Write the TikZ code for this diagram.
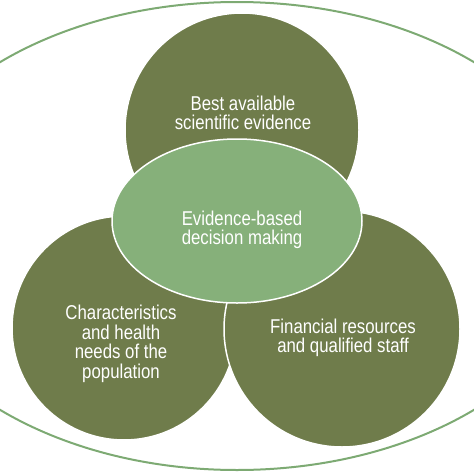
\documentclass[tikz,border=0pt]{standalone}
\usepackage{fontspec}
\setmainfont[FakeStretch=0.84]{Liberation Sans}
\usepackage{xcolor}
\usepackage{tikz}
\usetikzlibrary{shapes.geometric}
\definecolor{olivedark}{RGB}{111,124,75}
\definecolor{leafgreen}{RGB}{134,176,122}
\definecolor{ringgreen}{RGB}{125,170,115}

\begin{document}
\begin{tikzpicture}[x=1pt,y=-1pt,
  bubble/.style={circle,draw=white,line width=1.5pt,fill=olivedark,inner sep=0pt},
  core/.style={ellipse,draw=white,line width=1.5pt,fill=leafgreen,inner sep=0pt},
  caption/.style={align=center,text=white,inner sep=0pt,font=\fontsize{20}{19.5}\selectfont}]
  \useasboundingbox (0,0) rectangle (474,474);
  \clip (0,0) rectangle (474,474);
  % outer ring
  \draw[ringgreen,line width=2pt] (237,236) ellipse [x radius=354,y radius=234];
  % the three circles
  \node[bubble,minimum size=234pt] (evidence) at (242,130) {};
  \node[bubble,minimum size=224pt] (population) at (124,328) {};
  \node[bubble,minimum size=236pt] (resources) at (342,329) {};
  \node[core,minimum width=250pt,minimum height=164pt] (decision) at (237,221) {};
  % texts
  \node[caption] (tEvidence) at (243,113) {Best available\\scientific evidence};
  \node[caption] (tDecision) at (242,230) {Evidence-based\\decision making};
  \node[caption] (tPopulation) at (121,344) {Characteristics\\and health\\needs of the\\population};
  \node[caption] (tResources) at (343,338) {Financial resources\\and qualified staff};
\end{tikzpicture}
\end{document}
